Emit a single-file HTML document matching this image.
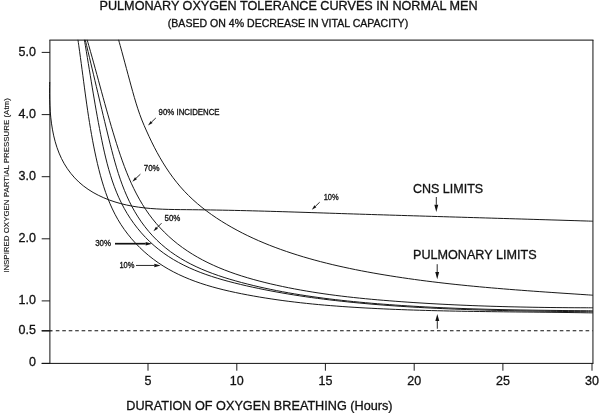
<!DOCTYPE html>
<html><head><meta charset="utf-8"><title>Pulmonary Oxygen Tolerance Curves</title>
<style>
html,body{margin:0;padding:0;background:#fff;}
svg{display:block;}
text{font-family:"Liberation Sans",Arial,sans-serif;fill:#111;stroke:#111;stroke-width:0.3px;}
</style></head>
<body>
<svg width="600" height="413" viewBox="0 0 600 413">
<rect width="600" height="413" fill="#fff"/>
<!-- titles -->
<text x="288.55" y="10" font-size="12.2" text-anchor="middle" textLength="378" lengthAdjust="spacingAndGlyphs">PULMONARY OXYGEN TOLERANCE CURVES IN NORMAL MEN</text>
<text x="288.0" y="27.4" font-size="10.2" text-anchor="middle" textLength="240.4" lengthAdjust="spacingAndGlyphs">(BASED ON 4% DECREASE IN VITAL CAPACITY)</text>
<!-- frame -->
<g fill="none" stroke="#111" stroke-width="1.05">
<path d="M49.9 363.4V40.05" stroke-width="1.0"/><path d="M49.4 40.05H593.45" stroke-width="1.3" stroke="#3a3a3a"/><path d="M592.95 40.05V363.4" stroke-width="1.0"/><path d="M41.7 363.4H593.45" stroke-width="1.0"/>
<path stroke-width="0.95" d="M41.7 52.4H49.9M41.7 114.6H49.9M41.7 176.7H49.9M41.7 238.8H49.9M41.7 300.9H49.9M41.7 330.8H49.9M41.7 363.4H49.9"/>
<path stroke-width="0.95" d="M148 363.4V370.7M236.8 363.4V370.7M325.4 363.4V370.7M414.2 363.4V370.7M502.9 363.4V370.7M592 363.4V370.7"/>
<path d="M41.7 330.8H52.5" stroke-width="1.2"/>
<path d="M55.8 330.8H592.6" stroke-dasharray="3.6 2.861" stroke-width="1.1"/>
</g>
<!-- curves -->
<g fill="none" stroke="#111" stroke-width="0.97" stroke-linejoin="round">
<path d="M77.95 39.80 C78.09 40.79 78.53 43.74 78.81 45.72 C79.09 47.69 79.37 49.66 79.64 51.63 C79.92 53.60 80.18 55.58 80.45 57.55 C80.72 59.52 80.99 61.49 81.25 63.47 C81.51 65.44 81.77 67.41 82.03 69.39 C82.30 71.36 82.55 73.33 82.82 75.30 C83.08 77.28 83.33 79.25 83.60 81.22 C83.86 83.19 84.12 85.17 84.38 87.14 C84.65 89.11 84.91 91.08 85.18 93.05 C85.45 95.02 85.72 96.99 85.99 98.96 C86.27 100.93 86.54 102.90 86.82 104.87 C87.11 106.84 87.39 108.81 87.68 110.78 C87.98 112.74 88.27 114.71 88.57 116.68 C88.88 118.64 89.19 120.61 89.50 122.57 C89.82 124.54 90.14 126.50 90.47 128.46 C90.80 130.42 91.14 132.38 91.49 134.34 C91.84 136.30 92.19 138.26 92.56 140.22 C92.92 142.18 93.30 144.14 93.68 146.09 C94.07 148.05 94.46 150.00 94.87 151.95 C95.28 153.90 95.69 155.85 96.13 157.80 C96.56 159.75 97.00 161.70 97.45 163.65 C97.91 165.59 98.38 167.54 98.87 169.48 C99.35 171.42 99.85 173.35 100.37 175.28 C100.90 177.21 101.43 179.14 102.00 181.05 C102.56 182.97 103.14 184.88 103.75 186.77 C104.35 188.67 104.98 190.56 105.64 192.43 C106.30 194.31 106.98 196.18 107.70 198.03 C108.41 199.88 109.15 201.71 109.93 203.53 C110.70 205.35 111.51 207.16 112.35 208.95 C113.19 210.73 114.07 212.51 114.98 214.26 C115.90 216.01 116.85 217.74 117.84 219.45 C118.83 221.16 119.86 222.85 120.93 224.51 C122.00 226.17 123.12 227.82 124.27 229.43 C125.42 231.05 126.61 232.64 127.83 234.21 C129.06 235.77 130.32 237.31 131.62 238.82 C132.91 240.34 134.24 241.82 135.60 243.28 C136.97 244.73 138.36 246.16 139.79 247.55 C141.21 248.94 142.66 250.31 144.15 251.64 C145.63 252.97 147.14 254.27 148.68 255.54 C150.21 256.80 151.78 258.03 153.36 259.23 C154.95 260.43 156.56 261.59 158.19 262.71 C159.82 263.83 161.48 264.92 163.15 265.97 C164.82 267.02 166.52 268.04 168.23 269.02 C169.94 270.00 171.68 270.94 173.43 271.85 C175.17 272.77 176.94 273.65 178.72 274.50 C180.51 275.35 182.31 276.16 184.12 276.95 C185.93 277.74 187.76 278.50 189.60 279.24 C191.44 279.97 193.30 280.68 195.17 281.36 C197.03 282.04 198.91 282.70 200.80 283.33 C202.69 283.96 204.59 284.57 206.50 285.16 C208.41 285.74 210.33 286.31 212.25 286.85 C214.18 287.40 216.11 287.92 218.05 288.43 C219.99 288.94 221.94 289.43 223.89 289.90 C225.84 290.37 227.80 290.83 229.76 291.27 C231.72 291.71 233.68 292.14 235.65 292.55 C237.61 292.97 239.58 293.37 241.55 293.76 C243.52 294.15 245.49 294.53 247.46 294.90 C249.43 295.27 251.40 295.63 253.37 295.98 C255.34 296.33 257.31 296.67 259.28 297.00 C261.25 297.34 263.22 297.66 265.19 297.97 C267.17 298.29 269.14 298.59 271.11 298.89 C273.08 299.19 275.05 299.48 277.02 299.76 C278.99 300.04 280.96 300.31 282.93 300.58 C284.91 300.84 286.88 301.10 288.85 301.35 C290.82 301.60 292.79 301.84 294.77 302.07 C296.74 302.31 298.71 302.54 300.69 302.76 C302.66 302.98 304.63 303.19 306.61 303.40 C308.58 303.61 310.55 303.81 312.53 304.00 C314.50 304.20 316.48 304.39 318.45 304.57 C320.43 304.75 322.40 304.93 324.38 305.10 C326.36 305.27 328.33 305.44 330.31 305.60 C332.28 305.76 334.26 305.91 336.24 306.06 C338.22 306.21 340.19 306.36 342.17 306.50 C344.15 306.64 346.13 306.78 348.11 306.91 C350.09 307.04 352.07 307.17 354.05 307.30 C356.03 307.42 358.01 307.54 359.99 307.66 C361.97 307.77 363.96 307.89 365.94 308.00 C367.92 308.11 369.90 308.21 371.89 308.31 C373.87 308.42 375.86 308.52 377.84 308.62 C379.82 308.71 381.81 308.81 383.80 308.90 C385.78 308.99 387.77 309.08 389.75 309.16 C391.74 309.25 393.73 309.33 395.71 309.41 C397.70 309.49 399.69 309.57 401.68 309.64 C403.67 309.71 405.65 309.79 407.64 309.86 C409.63 309.93 411.62 309.99 413.61 310.06 C415.60 310.12 417.59 310.18 419.58 310.24 C421.57 310.30 423.56 310.36 425.55 310.42 C427.54 310.47 429.54 310.53 431.53 310.58 C433.52 310.63 435.51 310.68 437.50 310.73 C439.49 310.78 441.48 310.82 443.48 310.87 C445.47 310.91 447.46 310.95 449.45 311.00 C451.45 311.04 453.44 311.08 455.43 311.11 C457.43 311.15 459.42 311.19 461.41 311.22 C463.40 311.26 465.40 311.29 467.39 311.33 C469.38 311.36 471.38 311.39 473.37 311.42 C475.36 311.45 477.36 311.48 479.35 311.51 C481.34 311.54 483.34 311.57 485.33 311.59 C487.32 311.62 489.32 311.64 491.31 311.67 C493.30 311.69 495.30 311.72 497.29 311.74 C499.28 311.76 501.28 311.79 503.27 311.81 C505.26 311.83 507.26 311.85 509.25 311.88 C511.24 311.90 513.24 311.92 515.23 311.94 C517.22 311.96 519.21 311.98 521.21 312.00 C523.20 312.02 525.19 312.04 527.18 312.06 C529.17 312.08 531.16 312.10 533.16 312.12 C535.15 312.14 537.14 312.17 539.13 312.19 C541.12 312.21 543.11 312.23 545.10 312.25 C547.09 312.27 549.08 312.29 551.07 312.32 C553.06 312.34 555.05 312.36 557.04 312.38 C559.03 312.41 561.02 312.43 563.01 312.46 C564.99 312.48 566.98 312.51 568.97 312.53 C570.96 312.56 572.94 312.59 574.93 312.61 C576.92 312.64 578.90 312.67 580.89 312.70 C582.87 312.73 584.86 312.76 586.84 312.80 C588.83 312.83 591.81 312.88 592.80 312.90"/>
<path d="M84.38 39.80 C84.55 40.78 85.05 43.74 85.39 45.72 C85.72 47.69 86.05 49.66 86.37 51.64 C86.70 53.61 87.03 55.58 87.35 57.56 C87.68 59.53 88.00 61.50 88.32 63.48 C88.65 65.45 88.97 67.42 89.29 69.40 C89.61 71.37 89.93 73.34 90.26 75.31 C90.58 77.29 90.90 79.26 91.23 81.23 C91.55 83.21 91.87 85.18 92.20 87.15 C92.53 89.12 92.86 91.09 93.19 93.07 C93.52 95.04 93.85 97.01 94.19 98.98 C94.52 100.95 94.86 102.92 95.20 104.89 C95.54 106.86 95.89 108.84 96.24 110.81 C96.59 112.78 96.94 114.75 97.30 116.72 C97.66 118.69 98.02 120.66 98.38 122.62 C98.75 124.59 99.12 126.56 99.50 128.53 C99.88 130.50 100.26 132.47 100.65 134.44 C101.04 136.40 101.44 138.37 101.84 140.34 C102.24 142.30 102.65 144.27 103.07 146.23 C103.50 148.20 103.93 150.16 104.37 152.11 C104.82 154.07 105.27 156.02 105.75 157.97 C106.22 159.92 106.71 161.86 107.22 163.80 C107.73 165.73 108.25 167.66 108.79 169.58 C109.34 171.50 109.91 173.42 110.50 175.32 C111.09 177.22 111.70 179.12 112.34 181.00 C112.97 182.89 113.64 184.76 114.33 186.62 C115.02 188.48 115.74 190.33 116.49 192.17 C117.24 194.00 118.02 195.83 118.84 197.63 C119.66 199.44 120.50 201.23 121.39 203.01 C122.27 204.79 123.19 206.55 124.15 208.29 C125.11 210.03 126.11 211.76 127.14 213.47 C128.18 215.17 129.26 216.86 130.37 218.53 C131.49 220.20 132.64 221.84 133.82 223.46 C135.01 225.09 136.23 226.69 137.49 228.26 C138.74 229.83 140.04 231.38 141.36 232.89 C142.68 234.41 144.04 235.89 145.43 237.34 C146.82 238.79 148.24 240.21 149.69 241.59 C151.14 242.97 152.63 244.32 154.14 245.63 C155.65 246.94 157.19 248.21 158.75 249.45 C160.31 250.68 161.90 251.88 163.51 253.04 C165.12 254.20 166.76 255.32 168.41 256.40 C170.07 257.48 171.75 258.53 173.44 259.54 C175.14 260.55 176.86 261.53 178.60 262.48 C180.33 263.42 182.09 264.33 183.86 265.21 C185.63 266.10 187.42 266.95 189.22 267.77 C191.03 268.59 192.85 269.38 194.68 270.15 C196.51 270.92 198.36 271.66 200.22 272.37 C202.08 273.09 203.96 273.78 205.84 274.45 C207.72 275.12 209.62 275.76 211.52 276.38 C213.42 277.01 215.34 277.61 217.26 278.20 C219.18 278.78 221.11 279.35 223.04 279.90 C224.98 280.45 226.92 280.98 228.87 281.50 C230.82 282.02 232.77 282.52 234.72 283.01 C236.68 283.50 238.64 283.98 240.60 284.45 C242.56 284.91 244.52 285.37 246.48 285.82 C248.44 286.26 250.41 286.70 252.37 287.13 C254.33 287.56 256.30 287.98 258.26 288.39 C260.23 288.80 262.20 289.20 264.16 289.60 C266.13 289.99 268.10 290.38 270.07 290.75 C272.03 291.13 274.00 291.50 275.97 291.86 C277.94 292.22 279.91 292.57 281.88 292.92 C283.85 293.26 285.83 293.60 287.80 293.93 C289.77 294.26 291.74 294.58 293.72 294.90 C295.69 295.21 297.66 295.52 299.64 295.82 C301.61 296.12 303.59 296.42 305.57 296.71 C307.54 296.99 309.52 297.27 311.50 297.55 C313.47 297.82 315.45 298.09 317.43 298.35 C319.41 298.61 321.39 298.87 323.37 299.12 C325.35 299.37 327.33 299.61 329.31 299.85 C331.29 300.08 333.28 300.32 335.26 300.54 C337.24 300.77 339.22 300.99 341.21 301.20 C343.19 301.42 345.18 301.63 347.16 301.84 C349.15 302.04 351.13 302.24 353.12 302.44 C355.10 302.63 357.09 302.82 359.08 303.01 C361.06 303.20 363.05 303.38 365.04 303.56 C367.03 303.74 369.02 303.91 371.01 304.08 C373.00 304.25 374.99 304.41 376.98 304.58 C378.97 304.74 380.96 304.90 382.95 305.05 C384.94 305.20 386.94 305.35 388.93 305.50 C390.92 305.65 392.91 305.79 394.91 305.93 C396.90 306.07 398.90 306.20 400.89 306.33 C402.88 306.46 404.88 306.59 406.87 306.72 C408.87 306.84 410.87 306.96 412.86 307.08 C414.86 307.20 416.85 307.31 418.85 307.42 C420.85 307.54 422.84 307.64 424.84 307.75 C426.84 307.85 428.84 307.96 430.83 308.06 C432.83 308.15 434.83 308.25 436.83 308.34 C438.83 308.44 440.83 308.53 442.83 308.61 C444.82 308.70 446.82 308.79 448.82 308.87 C450.82 308.95 452.82 309.03 454.82 309.11 C456.82 309.19 458.82 309.26 460.82 309.33 C462.82 309.40 464.82 309.47 466.82 309.54 C468.82 309.61 470.83 309.67 472.83 309.74 C474.83 309.80 476.83 309.86 478.83 309.92 C480.83 309.98 482.83 310.04 484.83 310.09 C486.83 310.15 488.83 310.20 490.84 310.25 C492.84 310.30 494.84 310.35 496.84 310.40 C498.84 310.44 500.84 310.49 502.84 310.53 C504.84 310.58 506.85 310.62 508.85 310.66 C510.85 310.70 512.85 310.74 514.85 310.78 C516.85 310.82 518.85 310.85 520.85 310.89 C522.85 310.92 524.85 310.96 526.85 310.99 C528.86 311.02 530.86 311.05 532.86 311.09 C534.86 311.12 536.86 311.15 538.86 311.17 C540.86 311.20 542.86 311.23 544.86 311.26 C546.86 311.28 548.86 311.31 550.86 311.33 C552.85 311.36 554.85 311.38 556.85 311.41 C558.85 311.43 560.85 311.46 562.85 311.48 C564.85 311.50 566.84 311.52 568.84 311.55 C570.84 311.57 572.84 311.59 574.83 311.61 C576.83 311.63 578.83 311.65 580.82 311.67 C582.82 311.69 584.82 311.71 586.81 311.73 C588.81 311.75 591.80 311.79 592.80 311.80"/>
<path d="M85.23 39.80 C85.47 40.77 86.17 43.68 86.63 45.63 C87.10 47.57 87.56 49.51 88.03 51.45 C88.49 53.40 88.95 55.34 89.42 57.28 C89.88 59.22 90.34 61.16 90.80 63.11 C91.26 65.05 91.72 66.99 92.18 68.93 C92.64 70.87 93.10 72.81 93.56 74.75 C94.02 76.70 94.47 78.64 94.93 80.58 C95.39 82.52 95.85 84.46 96.31 86.40 C96.77 88.34 97.23 90.29 97.69 92.23 C98.15 94.17 98.61 96.11 99.07 98.05 C99.53 99.99 99.99 101.94 100.45 103.88 C100.91 105.82 101.37 107.76 101.84 109.70 C102.30 111.65 102.77 113.59 103.23 115.53 C103.70 117.48 104.17 119.42 104.63 121.36 C105.10 123.30 105.57 125.25 106.04 127.19 C106.51 129.14 106.99 131.08 107.46 133.03 C107.94 134.97 108.41 136.92 108.89 138.86 C109.37 140.80 109.85 142.75 110.34 144.69 C110.83 146.64 111.32 148.58 111.82 150.52 C112.32 152.46 112.83 154.40 113.35 156.33 C113.87 158.26 114.40 160.19 114.94 162.12 C115.49 164.04 116.04 165.96 116.62 167.87 C117.19 169.78 117.78 171.69 118.39 173.58 C119.00 175.48 119.62 177.37 120.27 179.25 C120.92 181.13 121.59 183.00 122.29 184.86 C122.99 186.72 123.70 188.57 124.45 190.40 C125.20 192.24 125.97 194.07 126.77 195.88 C127.58 197.69 128.41 199.49 129.27 201.27 C130.14 203.06 131.03 204.83 131.96 206.58 C132.90 208.33 133.86 210.07 134.87 211.79 C135.87 213.51 136.92 215.21 137.99 216.89 C139.07 218.57 140.19 220.24 141.34 221.87 C142.49 223.51 143.68 225.13 144.91 226.71 C146.13 228.30 147.39 229.86 148.69 231.38 C149.98 232.91 151.31 234.41 152.67 235.87 C154.04 237.33 155.43 238.76 156.86 240.15 C158.29 241.54 159.76 242.90 161.25 244.22 C162.74 245.54 164.26 246.82 165.81 248.06 C167.35 249.31 168.93 250.52 170.53 251.69 C172.13 252.86 173.75 253.99 175.40 255.09 C177.04 256.18 178.71 257.24 180.40 258.27 C182.09 259.30 183.80 260.29 185.53 261.26 C187.26 262.22 189.01 263.15 190.78 264.05 C192.55 264.96 194.33 265.83 196.13 266.67 C197.93 267.51 199.75 268.33 201.58 269.12 C203.41 269.91 205.26 270.67 207.11 271.41 C208.97 272.15 210.84 272.86 212.72 273.56 C214.60 274.25 216.49 274.92 218.39 275.57 C220.29 276.22 222.20 276.85 224.12 277.46 C226.03 278.08 227.96 278.67 229.89 279.24 C231.82 279.82 233.75 280.38 235.69 280.92 C237.63 281.47 239.57 282.00 241.52 282.52 C243.46 283.04 245.41 283.54 247.36 284.03 C249.31 284.53 251.26 285.01 253.21 285.48 C255.16 285.95 257.11 286.41 259.06 286.86 C261.02 287.31 262.97 287.74 264.93 288.17 C266.88 288.60 268.84 289.01 270.80 289.42 C272.75 289.83 274.71 290.22 276.67 290.61 C278.63 291.00 280.59 291.38 282.55 291.74 C284.51 292.11 286.48 292.47 288.44 292.82 C290.40 293.17 292.37 293.51 294.33 293.84 C296.30 294.17 298.27 294.50 300.23 294.81 C302.20 295.13 304.17 295.43 306.14 295.73 C308.11 296.03 310.08 296.32 312.05 296.60 C314.02 296.89 315.99 297.16 317.96 297.43 C319.94 297.70 321.91 297.96 323.88 298.22 C325.86 298.47 327.83 298.72 329.81 298.96 C331.79 299.20 333.76 299.44 335.74 299.67 C337.72 299.90 339.70 300.12 341.67 300.34 C343.65 300.56 345.63 300.77 347.61 300.97 C349.59 301.18 351.58 301.38 353.56 301.58 C355.54 301.77 357.52 301.97 359.50 302.15 C361.49 302.34 363.47 302.52 365.46 302.70 C367.44 302.88 369.43 303.05 371.41 303.22 C373.40 303.39 375.38 303.56 377.37 303.72 C379.36 303.88 381.34 304.04 383.33 304.19 C385.32 304.34 387.31 304.49 389.30 304.64 C391.29 304.78 393.28 304.93 395.26 305.06 C397.25 305.20 399.25 305.34 401.24 305.47 C403.23 305.60 405.22 305.73 407.21 305.85 C409.20 305.98 411.19 306.10 413.19 306.21 C415.18 306.33 417.17 306.45 419.16 306.56 C421.16 306.67 423.15 306.78 425.15 306.88 C427.14 306.98 429.13 307.09 431.13 307.18 C433.12 307.28 435.12 307.38 437.11 307.47 C439.11 307.56 441.10 307.65 443.10 307.74 C445.09 307.83 447.09 307.91 449.09 307.99 C451.08 308.07 453.08 308.15 455.08 308.23 C457.07 308.31 459.07 308.38 461.07 308.45 C463.06 308.52 465.06 308.59 467.06 308.66 C469.05 308.72 471.05 308.79 473.05 308.85 C475.05 308.91 477.04 308.97 479.04 309.03 C481.04 309.09 483.04 309.14 485.03 309.20 C487.03 309.25 489.03 309.30 491.03 309.35 C493.03 309.40 495.02 309.45 497.02 309.49 C499.02 309.54 501.02 309.58 503.01 309.63 C505.01 309.67 507.01 309.71 509.01 309.75 C511.01 309.79 513.00 309.83 515.00 309.86 C517.00 309.90 519.00 309.93 520.99 309.97 C522.99 310.00 524.99 310.03 526.99 310.06 C528.98 310.09 530.98 310.12 532.98 310.15 C534.97 310.18 536.97 310.21 538.97 310.24 C540.96 310.26 542.96 310.29 544.95 310.31 C546.95 310.34 548.95 310.36 550.94 310.39 C552.94 310.41 554.93 310.43 556.93 310.45 C558.92 310.47 560.92 310.49 562.91 310.52 C564.90 310.54 566.90 310.56 568.89 310.58 C570.89 310.60 572.88 310.61 574.87 310.63 C576.87 310.65 578.86 310.67 580.85 310.69 C582.84 310.71 584.83 310.72 586.83 310.74 C588.82 310.76 591.80 310.79 592.80 310.80"/>
<path d="M87.13 39.81 C87.41 40.77 88.25 43.65 88.80 45.58 C89.36 47.50 89.90 49.42 90.45 51.35 C90.99 53.27 91.53 55.20 92.07 57.12 C92.60 59.04 93.14 60.97 93.67 62.89 C94.20 64.82 94.73 66.74 95.26 68.67 C95.78 70.59 96.31 72.52 96.84 74.44 C97.36 76.37 97.88 78.29 98.41 80.22 C98.93 82.14 99.46 84.06 99.98 85.99 C100.50 87.91 101.03 89.84 101.55 91.76 C102.08 93.69 102.61 95.61 103.14 97.54 C103.67 99.46 104.20 101.39 104.73 103.31 C105.26 105.24 105.80 107.16 106.34 109.09 C106.88 111.01 107.42 112.94 107.97 114.86 C108.52 116.79 109.07 118.71 109.62 120.64 C110.18 122.56 110.74 124.48 111.31 126.41 C111.87 128.33 112.45 130.26 113.02 132.18 C113.60 134.10 114.18 136.03 114.78 137.95 C115.37 139.87 115.97 141.80 116.57 143.72 C117.18 145.64 117.80 147.56 118.42 149.48 C119.05 151.39 119.69 153.30 120.34 155.21 C120.99 157.12 121.65 159.02 122.33 160.91 C123.01 162.81 123.70 164.70 124.41 166.58 C125.12 168.45 125.84 170.33 126.59 172.19 C127.33 174.05 128.09 175.90 128.87 177.74 C129.66 179.58 130.46 181.41 131.28 183.22 C132.11 185.04 132.95 186.84 133.82 188.63 C134.69 190.41 135.59 192.19 136.51 193.94 C137.43 195.70 138.37 197.44 139.35 199.16 C140.32 200.88 141.32 202.59 142.35 204.27 C143.38 205.96 144.44 207.62 145.53 209.26 C146.63 210.91 147.75 212.53 148.91 214.13 C150.06 215.73 151.25 217.31 152.47 218.86 C153.70 220.41 154.95 221.94 156.24 223.45 C157.53 224.95 158.85 226.43 160.20 227.88 C161.54 229.33 162.92 230.76 164.33 232.16 C165.73 233.55 167.17 234.93 168.63 236.27 C170.09 237.61 171.58 238.92 173.09 240.21 C174.60 241.49 176.14 242.74 177.70 243.97 C179.26 245.19 180.84 246.38 182.45 247.54 C184.05 248.70 185.68 249.82 187.33 250.92 C188.97 252.02 190.64 253.09 192.33 254.12 C194.01 255.16 195.72 256.17 197.44 257.15 C199.16 258.13 200.91 259.08 202.66 260.01 C204.42 260.94 206.20 261.84 207.98 262.71 C209.77 263.58 211.58 264.43 213.40 265.26 C215.21 266.08 217.05 266.88 218.89 267.66 C220.74 268.43 222.59 269.19 224.46 269.92 C226.33 270.65 228.21 271.36 230.10 272.05 C231.99 272.74 233.89 273.41 235.80 274.06 C237.71 274.71 239.63 275.34 241.55 275.95 C243.48 276.56 245.41 277.15 247.35 277.73 C249.28 278.31 251.23 278.86 253.18 279.41 C255.13 279.95 257.08 280.48 259.04 280.99 C261.00 281.51 262.96 282.00 264.92 282.49 C266.89 282.98 268.85 283.45 270.82 283.91 C272.79 284.37 274.76 284.81 276.72 285.25 C278.69 285.69 280.66 286.11 282.63 286.53 C284.59 286.94 286.56 287.34 288.53 287.74 C290.50 288.13 292.47 288.51 294.43 288.89 C296.40 289.26 298.37 289.62 300.34 289.98 C302.31 290.33 304.28 290.67 306.25 291.01 C308.21 291.34 310.18 291.67 312.15 291.99 C314.12 292.30 316.09 292.61 318.06 292.91 C320.03 293.21 322.00 293.50 323.97 293.79 C325.95 294.07 327.92 294.35 329.89 294.61 C331.86 294.88 333.83 295.14 335.80 295.40 C337.78 295.65 339.75 295.89 341.72 296.13 C343.70 296.37 345.67 296.61 347.64 296.83 C349.62 297.06 351.59 297.28 353.57 297.49 C355.55 297.71 357.52 297.91 359.50 298.12 C361.48 298.32 363.45 298.51 365.43 298.71 C367.41 298.90 369.39 299.08 371.37 299.27 C373.35 299.45 375.33 299.62 377.31 299.80 C379.29 299.97 381.27 300.14 383.25 300.30 C385.24 300.47 387.22 300.63 389.20 300.78 C391.19 300.94 393.17 301.09 395.16 301.24 C397.14 301.39 399.13 301.54 401.12 301.68 C403.10 301.83 405.09 301.97 407.08 302.10 C409.07 302.24 411.06 302.38 413.05 302.51 C415.04 302.64 417.03 302.77 419.03 302.89 C421.02 303.02 423.01 303.14 425.00 303.26 C427.00 303.38 428.99 303.50 430.98 303.61 C432.98 303.72 434.97 303.84 436.97 303.94 C438.97 304.05 440.96 304.16 442.96 304.26 C444.95 304.36 446.95 304.46 448.95 304.56 C450.95 304.66 452.94 304.75 454.94 304.85 C456.94 304.94 458.94 305.03 460.94 305.11 C462.94 305.20 464.94 305.29 466.94 305.37 C468.93 305.45 470.93 305.53 472.93 305.61 C474.93 305.68 476.93 305.76 478.93 305.83 C480.94 305.90 482.94 305.97 484.94 306.04 C486.94 306.11 488.94 306.17 490.94 306.24 C492.94 306.30 494.94 306.36 496.94 306.42 C498.94 306.48 500.94 306.54 502.94 306.59 C504.95 306.64 506.95 306.70 508.95 306.75 C510.95 306.80 512.95 306.85 514.95 306.89 C516.95 306.94 518.95 306.98 520.95 307.02 C522.95 307.07 524.95 307.11 526.95 307.14 C528.95 307.18 530.95 307.22 532.95 307.25 C534.95 307.29 536.95 307.32 538.95 307.35 C540.95 307.38 542.94 307.41 544.94 307.44 C546.94 307.47 548.94 307.49 550.94 307.52 C552.93 307.54 554.93 307.56 556.93 307.58 C558.92 307.60 560.92 307.62 562.91 307.64 C564.91 307.66 566.90 307.67 568.90 307.69 C570.89 307.70 572.89 307.72 574.88 307.73 C576.87 307.74 578.86 307.75 580.86 307.76 C582.85 307.77 584.84 307.77 586.83 307.78 C588.82 307.79 591.80 307.79 592.80 307.79"/>
<path d="M118.58 39.81 C118.85 40.76 119.66 43.64 120.19 45.55 C120.72 47.47 121.25 49.39 121.77 51.31 C122.30 53.23 122.82 55.15 123.34 57.07 C123.86 58.99 124.37 60.92 124.89 62.84 C125.41 64.76 125.92 66.68 126.44 68.61 C126.96 70.53 127.47 72.45 127.99 74.37 C128.51 76.30 129.03 78.22 129.55 80.14 C130.07 82.06 130.59 83.98 131.12 85.90 C131.65 87.82 132.18 89.73 132.71 91.65 C133.25 93.57 133.79 95.48 134.34 97.39 C134.90 99.30 135.46 101.21 136.04 103.11 C136.62 105.01 137.21 106.90 137.84 108.79 C138.46 110.68 139.10 112.56 139.77 114.43 C140.44 116.30 141.13 118.16 141.87 120.01 C142.60 121.86 143.37 123.69 144.15 125.53 C144.94 127.36 145.75 129.18 146.57 131.00 C147.39 132.82 148.22 134.64 149.06 136.45 C149.91 138.26 150.76 140.06 151.64 141.86 C152.51 143.65 153.40 145.44 154.31 147.22 C155.22 148.99 156.15 150.76 157.10 152.51 C158.05 154.26 159.02 156.01 160.01 157.73 C161.01 159.46 162.02 161.17 163.06 162.86 C164.10 164.56 165.15 166.24 166.24 167.90 C167.32 169.56 168.43 171.21 169.57 172.84 C170.70 174.46 171.86 176.07 173.04 177.65 C174.23 179.24 175.44 180.80 176.68 182.34 C177.92 183.88 179.18 185.40 180.48 186.90 C181.78 188.39 183.10 189.86 184.45 191.31 C185.81 192.75 187.19 194.17 188.60 195.56 C190.01 196.96 191.45 198.32 192.92 199.66 C194.38 201.01 195.87 202.32 197.39 203.62 C198.90 204.91 200.44 206.18 201.99 207.43 C203.55 208.67 205.13 209.89 206.73 211.09 C208.33 212.29 209.95 213.46 211.58 214.62 C213.21 215.77 214.87 216.90 216.53 218.01 C218.20 219.12 219.88 220.20 221.57 221.27 C223.26 222.33 224.97 223.37 226.69 224.40 C228.40 225.42 230.13 226.42 231.86 227.40 C233.60 228.38 235.35 229.34 237.10 230.28 C238.86 231.22 240.62 232.14 242.39 233.05 C244.17 233.95 245.95 234.83 247.74 235.70 C249.53 236.56 251.32 237.41 253.13 238.24 C254.93 239.07 256.75 239.88 258.57 240.68 C260.39 241.47 262.22 242.25 264.05 243.01 C265.88 243.77 267.73 244.52 269.57 245.25 C271.42 245.98 273.27 246.69 275.13 247.39 C276.99 248.09 278.86 248.78 280.72 249.45 C282.59 250.12 284.47 250.78 286.35 251.42 C288.23 252.06 290.11 252.69 292.00 253.31 C293.89 253.93 295.79 254.53 297.68 255.12 C299.58 255.71 301.48 256.29 303.39 256.86 C305.29 257.43 307.20 257.98 309.11 258.53 C311.02 259.07 312.94 259.61 314.86 260.13 C316.77 260.65 318.70 261.16 320.62 261.66 C322.54 262.17 324.47 262.66 326.40 263.14 C328.33 263.62 330.27 264.09 332.20 264.55 C334.14 265.01 336.08 265.46 338.02 265.90 C339.96 266.34 341.90 266.78 343.85 267.20 C345.79 267.63 347.74 268.04 349.69 268.45 C351.64 268.86 353.59 269.26 355.54 269.65 C357.49 270.04 359.45 270.42 361.40 270.80 C363.36 271.18 365.32 271.55 367.27 271.91 C369.23 272.27 371.19 272.63 373.15 272.98 C375.11 273.32 377.08 273.67 379.04 274.00 C381.00 274.34 382.96 274.67 384.93 274.99 C386.89 275.32 388.86 275.64 390.82 275.95 C392.79 276.27 394.75 276.57 396.72 276.87 C398.69 277.18 400.65 277.47 402.62 277.76 C404.59 278.06 406.56 278.34 408.53 278.62 C410.50 278.90 412.47 279.18 414.44 279.45 C416.41 279.72 418.38 279.99 420.35 280.25 C422.33 280.51 424.30 280.77 426.27 281.02 C428.25 281.27 430.22 281.52 432.19 281.76 C434.17 282.00 436.14 282.24 438.12 282.47 C440.09 282.71 442.07 282.94 444.05 283.16 C446.02 283.39 448.00 283.61 449.98 283.83 C451.96 284.04 453.93 284.26 455.91 284.47 C457.89 284.68 459.87 284.88 461.85 285.09 C463.83 285.29 465.81 285.49 467.79 285.69 C469.77 285.88 471.75 286.07 473.73 286.26 C475.71 286.45 477.69 286.64 479.67 286.82 C481.65 287.01 483.64 287.18 485.62 287.36 C487.60 287.54 489.58 287.71 491.57 287.89 C493.55 288.06 495.53 288.23 497.51 288.39 C499.50 288.56 501.48 288.72 503.47 288.89 C505.45 289.05 507.43 289.21 509.42 289.36 C511.40 289.52 513.39 289.68 515.37 289.83 C517.36 289.98 519.34 290.13 521.32 290.28 C523.31 290.43 525.29 290.58 527.28 290.73 C529.27 290.87 531.25 291.02 533.24 291.16 C535.22 291.30 537.21 291.45 539.19 291.59 C541.18 291.73 543.16 291.87 545.15 292.00 C547.13 292.14 549.12 292.28 551.11 292.41 C553.09 292.55 555.08 292.69 557.06 292.82 C559.05 292.95 561.04 293.09 563.02 293.22 C565.01 293.35 566.99 293.49 568.98 293.62 C570.96 293.75 572.95 293.88 574.93 294.01 C576.92 294.15 578.90 294.28 580.89 294.41 C582.88 294.54 584.86 294.67 586.85 294.80 C588.83 294.93 591.81 295.13 592.80 295.20"/>
<path d="M49.71 82.01 C49.69 82.97 49.62 85.81 49.60 87.74 C49.58 89.67 49.57 91.63 49.58 93.60 C49.59 95.57 49.61 97.56 49.66 99.55 C49.72 101.55 49.78 103.57 49.88 105.59 C49.98 107.61 50.10 109.64 50.25 111.67 C50.41 113.70 50.58 115.73 50.80 117.76 C51.02 119.79 51.26 121.83 51.55 123.85 C51.83 125.87 52.15 127.89 52.52 129.89 C52.88 131.90 53.28 133.90 53.73 135.87 C54.18 137.85 54.67 139.81 55.21 141.75 C55.75 143.69 56.34 145.62 56.98 147.51 C57.63 149.40 58.32 151.28 59.07 153.12 C59.82 154.95 60.62 156.77 61.49 158.54 C62.35 160.31 63.28 162.05 64.26 163.75 C65.25 165.45 66.29 167.11 67.40 168.73 C68.50 170.35 69.66 171.92 70.88 173.45 C72.09 174.98 73.37 176.46 74.70 177.89 C76.02 179.31 77.41 180.69 78.84 182.02 C80.28 183.34 81.77 184.60 83.31 185.82 C84.84 187.03 86.43 188.18 88.06 189.28 C89.69 190.38 91.36 191.43 93.07 192.43 C94.78 193.42 96.53 194.36 98.31 195.26 C100.08 196.15 101.90 196.99 103.73 197.78 C105.56 198.57 107.43 199.31 109.30 200.01 C111.18 200.71 113.09 201.35 115.00 201.95 C116.91 202.56 118.84 203.11 120.78 203.62 C122.71 204.14 124.66 204.60 126.61 205.03 C128.56 205.46 130.52 205.84 132.48 206.19 C134.44 206.54 136.41 206.85 138.39 207.13 C140.36 207.41 142.35 207.66 144.33 207.88 C146.32 208.10 148.31 208.29 150.30 208.46 C152.30 208.62 154.29 208.76 156.29 208.89 C158.30 209.01 160.30 209.11 162.31 209.19 C164.31 209.28 166.32 209.34 168.33 209.40 C170.34 209.46 172.35 209.50 174.36 209.53 C176.37 209.57 178.39 209.59 180.40 209.61 C182.41 209.64 184.43 209.65 186.44 209.67 C188.45 209.69 190.46 209.70 192.47 209.72 C194.48 209.74 196.48 209.77 198.49 209.79 C200.49 209.81 202.50 209.84 204.50 209.86 C206.51 209.89 208.51 209.92 210.51 209.95 C212.51 209.98 214.51 210.02 216.51 210.05 C218.51 210.08 220.51 210.12 222.50 210.16 C224.50 210.20 226.49 210.23 228.49 210.28 C230.48 210.32 232.48 210.36 234.47 210.40 C236.46 210.45 238.46 210.49 240.45 210.54 C242.44 210.58 244.43 210.63 246.42 210.68 C248.41 210.73 250.40 210.78 252.39 210.83 C254.37 210.88 256.36 210.93 258.35 210.99 C260.34 211.04 262.32 211.09 264.31 211.15 C266.30 211.20 268.28 211.26 270.27 211.32 C272.25 211.37 274.24 211.43 276.22 211.49 C278.21 211.55 280.19 211.61 282.18 211.67 C284.16 211.73 286.14 211.79 288.13 211.85 C290.11 211.91 292.09 211.97 294.08 212.04 C296.06 212.10 298.05 212.16 300.03 212.22 C302.01 212.29 304.00 212.35 305.98 212.41 C307.96 212.48 309.95 212.54 311.93 212.61 C313.91 212.67 315.90 212.74 317.88 212.80 C319.86 212.86 321.85 212.93 323.83 212.99 C325.82 213.06 327.80 213.12 329.79 213.19 C331.77 213.25 333.76 213.32 335.74 213.38 C337.73 213.45 339.72 213.51 341.70 213.58 C343.69 213.64 345.68 213.70 347.67 213.77 C349.65 213.83 351.64 213.89 353.63 213.96 C355.62 214.02 357.61 214.08 359.60 214.15 C361.59 214.21 363.58 214.27 365.57 214.33 C367.56 214.40 369.55 214.46 371.54 214.52 C373.53 214.58 375.53 214.65 377.52 214.71 C379.51 214.77 381.50 214.83 383.50 214.89 C385.49 214.95 387.48 215.02 389.47 215.08 C391.47 215.14 393.46 215.20 395.46 215.26 C397.45 215.32 399.44 215.38 401.44 215.44 C403.43 215.50 405.43 215.56 407.42 215.62 C409.42 215.68 411.41 215.74 413.41 215.80 C415.40 215.86 417.40 215.92 419.39 215.98 C421.39 216.04 423.38 216.10 425.38 216.16 C427.38 216.22 429.37 216.28 431.37 216.34 C433.37 216.40 435.36 216.46 437.36 216.52 C439.35 216.58 441.35 216.64 443.35 216.70 C445.34 216.76 447.34 216.82 449.34 216.88 C451.33 216.94 453.33 217.00 455.33 217.06 C457.32 217.11 459.32 217.17 461.32 217.23 C463.31 217.29 465.31 217.35 467.31 217.41 C469.30 217.47 471.30 217.53 473.30 217.59 C475.29 217.65 477.29 217.71 479.29 217.76 C481.28 217.82 483.28 217.88 485.27 217.94 C487.27 218.00 489.27 218.06 491.26 218.12 C493.26 218.18 495.25 218.24 497.25 218.30 C499.24 218.36 501.24 218.41 503.24 218.47 C505.23 218.53 507.23 218.59 509.22 218.65 C511.21 218.71 513.21 218.77 515.20 218.83 C517.20 218.89 519.19 218.95 521.19 219.01 C523.18 219.07 525.17 219.13 527.17 219.19 C529.16 219.25 531.15 219.31 533.14 219.37 C535.14 219.43 537.13 219.49 539.12 219.55 C541.11 219.61 543.10 219.67 545.10 219.73 C547.09 219.79 549.08 219.85 551.07 219.91 C553.06 219.97 555.05 220.03 557.04 220.09 C559.03 220.15 561.02 220.21 563.01 220.27 C564.99 220.33 566.98 220.39 568.97 220.46 C570.96 220.52 572.94 220.58 574.93 220.64 C576.92 220.70 578.90 220.76 580.89 220.83 C582.88 220.89 584.86 220.95 586.85 221.01 C588.83 221.08 591.81 221.17 592.80 221.20"/>
</g>
<!-- y tick labels -->
<g font-size="12.5" text-anchor="end">
<text x="35.9" y="55.5">5.0</text>
<text x="35.9" y="117.6">4.0</text>
<text x="35.9" y="179.7">3.0</text>
<text x="35.9" y="241.8">2.0</text>
<text x="35.9" y="304.2">1.0</text>
<text x="35.9" y="333.5">0.5</text>
<text x="35.9" y="366.3">0</text>
</g>
<!-- x tick labels -->
<g font-size="12.5" text-anchor="middle">
<text x="148" y="384.5">5</text>
<text x="236.8" y="384.5">10</text>
<text x="325.4" y="384.5">15</text>
<text x="414.2" y="384.5">20</text>
<text x="502.9" y="384.5">25</text>
<text x="592" y="384.5">30</text>
</g>
<text x="259.4" y="409.5" font-size="12.3" text-anchor="middle" textLength="266.3" lengthAdjust="spacingAndGlyphs">DURATION OF OXYGEN BREATHING (Hours)</text>
<text transform="translate(8.6 185.5) rotate(-90)" style="stroke-width:0.12px" font-size="7.7" text-anchor="middle" textLength="174.6" lengthAdjust="spacingAndGlyphs">INSPIRED OXYGEN PARTIAL PRESSURE (Atm)</text>
<!-- annotations -->
<g font-size="8.35" style="stroke-width:0.2px">
<text x="158.6" y="115.3" textLength="61" lengthAdjust="spacingAndGlyphs">90% INCIDENCE</text>
<text x="143.8" y="170.9" textLength="15.8" lengthAdjust="spacingAndGlyphs">70%</text>
<text x="164.5" y="220.9" textLength="15.8" lengthAdjust="spacingAndGlyphs">50%</text>
<text x="95.2" y="246.1" textLength="15.8" lengthAdjust="spacingAndGlyphs">30%</text>
<text x="119.4" y="268.4" textLength="15.0" lengthAdjust="spacingAndGlyphs">10%</text>
<text x="323.7" y="199.9" textLength="15.0" lengthAdjust="spacingAndGlyphs">10%</text>
</g>
<g font-size="12.5">
<text x="413" y="193">CNS LIMITS</text>
<text x="413" y="258.5" textLength="123.6" lengthAdjust="spacingAndGlyphs">PULMONARY LIMITS</text>
</g>
<!-- arrows -->
<g stroke="#111" fill="#111">
<path d="M155.80 118.00L151.63 121.96" stroke-width="0.9"/>
<path d="M148.00 125.40L150.70 120.98L152.56 122.94Z" stroke="none"/>
<path d="M140.40 174.20L135.97 178.30" stroke-width="0.9"/>
<path d="M132.30 181.70L135.05 177.31L136.89 179.29Z" stroke="none"/>
<path d="M161.50 223.20L156.94 227.76" stroke-width="0.9"/>
<path d="M153.40 231.30L155.98 226.81L157.89 228.72Z" stroke="none"/>
<path d="M319.70 202.20L315.40 206.33" stroke-width="0.9"/>
<path d="M311.80 209.80L314.47 205.36L316.34 207.31Z" stroke="none"/>
<path d="M115.00 243.70L145.70 243.70" stroke-width="1.7"/>
<path d="M152.00 243.70L145.70 245.40L145.70 242.00Z" stroke="none"/>
<path d="M136.00 265.45L154.30 265.45" stroke-width="0.9"/>
<path d="M160.60 265.45L154.30 267.15L154.30 263.75Z" stroke="none"/>
<path d="M436.30 197.00L436.30 204.80" stroke-width="0.9"/>
<path d="M436.30 212.00L434.35 204.80L438.25 204.80Z" stroke="none"/>
<path d="M437.20 264.20L437.20 272.00" stroke-width="0.9"/>
<path d="M437.20 279.20L435.25 272.00L439.15 272.00Z" stroke="none"/>
<path d="M437.30 328.75L437.30 321.10" stroke-width="0.9"/>
<path d="M437.30 313.90L439.25 321.10L435.35 321.10Z" stroke="none"/>
</g>
</svg>
</body></html>
